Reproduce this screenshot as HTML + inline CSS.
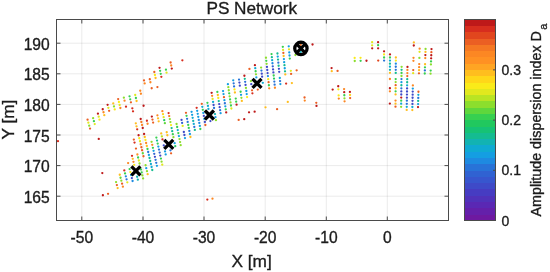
<!DOCTYPE html><html><head><meta charset="utf-8"><title>PS Network</title>
<style>html,body{margin:0;padding:0;background:#fff}svg{display:block}text{font-family:"Liberation Sans",Arial,Helvetica,sans-serif;fill:#1c1c1c;stroke:#1c1c1c;stroke-width:0.34px}</style></head><body>
<svg width="550" height="272" viewBox="0 0 550 272">
<rect width="550" height="272" fill="#fff"/>
<g stroke="#262626" stroke-opacity="0.095" stroke-width="1">
<line x1="81.8" y1="19.5" x2="81.8" y2="220.5"/>
<line x1="143.0" y1="19.5" x2="143.0" y2="220.5"/>
<line x1="204.0" y1="19.5" x2="204.0" y2="220.5"/>
<line x1="265.2" y1="19.5" x2="265.2" y2="220.5"/>
<line x1="326.3" y1="19.5" x2="326.3" y2="220.5"/>
<line x1="387.3" y1="19.5" x2="387.3" y2="220.5"/>
<line x1="56.5" y1="43.2" x2="448.5" y2="43.2"/>
<line x1="56.5" y1="73.8" x2="448.5" y2="73.8"/>
<line x1="56.5" y1="104.4" x2="448.5" y2="104.4"/>
<line x1="56.5" y1="135.0" x2="448.5" y2="135.0"/>
<line x1="56.5" y1="165.6" x2="448.5" y2="165.6"/>
<line x1="56.5" y1="196.2" x2="448.5" y2="196.2"/>
</g>
<g id="dots">
<circle cx="57.96" cy="141.20" r="1.15" fill="#d72d1e"/>
<circle cx="87.56" cy="119.70" r="1.15" fill="#eb5f23"/>
<circle cx="88.38" cy="122.67" r="1.15" fill="#e1e81e"/>
<circle cx="89.20" cy="125.63" r="1.15" fill="#8cde2d"/>
<circle cx="90.02" cy="128.60" r="1.15" fill="#eb5f23"/>
<circle cx="93.13" cy="118.18" r="1.15" fill="#8cde2d"/>
<circle cx="93.93" cy="121.15" r="1.15" fill="#37d050"/>
<circle cx="94.74" cy="124.12" r="1.15" fill="#e1e81e"/>
<circle cx="97.92" cy="113.71" r="1.15" fill="#be1919"/>
<circle cx="98.70" cy="116.68" r="1.15" fill="#e1e81e"/>
<circle cx="98.76" cy="138.96" r="1.15" fill="#be1919"/>
<circle cx="99.49" cy="119.66" r="1.15" fill="#faeb19"/>
<circle cx="102.31" cy="173.07" r="1.15" fill="#be1919"/>
<circle cx="102.74" cy="109.26" r="1.15" fill="#be1919"/>
<circle cx="102.87" cy="195.27" r="1.15" fill="#be1919"/>
<circle cx="103.52" cy="112.24" r="1.15" fill="#fc8723"/>
<circle cx="104.29" cy="115.22" r="1.15" fill="#ffbe1e"/>
<circle cx="107.60" cy="104.83" r="1.15" fill="#be1919"/>
<circle cx="108.05" cy="193.82" r="1.15" fill="#eb5f23"/>
<circle cx="108.36" cy="107.82" r="1.15" fill="#e1e81e"/>
<circle cx="109.12" cy="110.80" r="1.15" fill="#eb5f23"/>
<circle cx="113.25" cy="103.41" r="1.15" fill="#ffbe1e"/>
<circle cx="113.99" cy="106.40" r="1.15" fill="#8cde2d"/>
<circle cx="114.74" cy="109.38" r="1.15" fill="#faeb19"/>
<circle cx="116.07" cy="182.09" r="1.15" fill="#8cde2d"/>
<circle cx="116.86" cy="185.06" r="1.15" fill="#eb5f23"/>
<circle cx="117.65" cy="188.03" r="1.15" fill="#ffbe1e"/>
<circle cx="118.17" cy="99.03" r="1.15" fill="#eb5f23"/>
<circle cx="118.90" cy="102.02" r="1.15" fill="#faeb19"/>
<circle cx="119.63" cy="105.01" r="1.15" fill="#e1e81e"/>
<circle cx="119.77" cy="174.75" r="1.15" fill="#ffbe1e"/>
<circle cx="120.36" cy="108.00" r="1.15" fill="#fc8723"/>
<circle cx="120.54" cy="177.73" r="1.15" fill="#5fd73c"/>
<circle cx="121.32" cy="180.71" r="1.15" fill="#8cde2d"/>
<circle cx="122.09" cy="183.68" r="1.15" fill="#eb5f23"/>
<circle cx="122.87" cy="186.66" r="1.15" fill="#fc8723"/>
<circle cx="123.85" cy="97.67" r="1.15" fill="#8cde2d"/>
<circle cx="124.30" cy="170.41" r="1.15" fill="#d72d1e"/>
<circle cx="124.56" cy="100.66" r="1.15" fill="#fc8723"/>
<circle cx="125.06" cy="173.39" r="1.15" fill="#37d050"/>
<circle cx="125.82" cy="176.37" r="1.15" fill="#1e8ae1"/>
<circle cx="125.99" cy="106.64" r="1.15" fill="#d72d1e"/>
<circle cx="126.57" cy="179.35" r="1.15" fill="#2873d8"/>
<circle cx="127.33" cy="182.34" r="1.15" fill="#e1e81e"/>
<circle cx="128.12" cy="163.11" r="1.15" fill="#fc8723"/>
<circle cx="129.53" cy="96.33" r="1.15" fill="#37d050"/>
<circle cx="129.61" cy="169.08" r="1.15" fill="#37d050"/>
<circle cx="130.23" cy="99.32" r="1.15" fill="#37d050"/>
<circle cx="130.35" cy="172.06" r="1.15" fill="#faeb19"/>
<circle cx="130.93" cy="102.32" r="1.15" fill="#eb5f23"/>
<circle cx="131.09" cy="175.04" r="1.15" fill="#149ee2"/>
<circle cx="131.84" cy="178.03" r="1.15" fill="#3e4ac8"/>
<circle cx="132.01" cy="155.81" r="1.15" fill="#d72d1e"/>
<circle cx="132.32" cy="108.31" r="1.15" fill="#d72d1e"/>
<circle cx="132.58" cy="181.01" r="1.15" fill="#1e8ae1"/>
<circle cx="132.74" cy="158.80" r="1.15" fill="#ffbe1e"/>
<circle cx="133.02" cy="111.31" r="1.15" fill="#d72d1e"/>
<circle cx="133.46" cy="161.79" r="1.15" fill="#fc8723"/>
<circle cx="133.83" cy="139.55" r="1.15" fill="#eb5f23"/>
<circle cx="134.19" cy="164.78" r="1.15" fill="#faeb19"/>
<circle cx="134.54" cy="142.55" r="1.15" fill="#d72d1e"/>
<circle cx="135.22" cy="95.02" r="1.15" fill="#e1e81e"/>
<circle cx="135.81" cy="123.29" r="1.15" fill="#ffbe1e"/>
<circle cx="135.90" cy="98.02" r="1.15" fill="#37d050"/>
<circle cx="135.97" cy="148.53" r="1.15" fill="#eb5f23"/>
<circle cx="136.51" cy="126.28" r="1.15" fill="#ffbe1e"/>
<circle cx="136.58" cy="101.02" r="1.15" fill="#ffbe1e"/>
<circle cx="137.11" cy="176.73" r="1.15" fill="#12b3b2"/>
<circle cx="137.20" cy="129.28" r="1.15" fill="#d72d1e"/>
<circle cx="137.39" cy="154.52" r="1.15" fill="#ff9123"/>
<circle cx="137.83" cy="179.72" r="1.15" fill="#12b3b2"/>
<circle cx="138.10" cy="157.51" r="1.15" fill="#37d050"/>
<circle cx="138.60" cy="135.27" r="1.15" fill="#be1919"/>
<circle cx="138.82" cy="160.50" r="1.15" fill="#e1e81e"/>
<circle cx="139.29" cy="138.27" r="1.15" fill="#faeb19"/>
<circle cx="139.53" cy="163.49" r="1.15" fill="#8cde2d"/>
<circle cx="139.99" cy="141.26" r="1.15" fill="#e1e81e"/>
<circle cx="140.25" cy="90.74" r="1.15" fill="#fc8723"/>
<circle cx="140.68" cy="119.01" r="1.15" fill="#be1919"/>
<circle cx="140.69" cy="144.26" r="1.15" fill="#fc8723"/>
<circle cx="140.91" cy="93.74" r="1.15" fill="#fc8723"/>
<circle cx="140.96" cy="169.48" r="1.15" fill="#37d050"/>
<circle cx="141.36" cy="122.01" r="1.15" fill="#f57823"/>
<circle cx="141.39" cy="147.25" r="1.15" fill="#eb5f23"/>
<circle cx="141.67" cy="172.47" r="1.15" fill="#37d050"/>
<circle cx="142.04" cy="125.01" r="1.15" fill="#fc8723"/>
<circle cx="142.08" cy="150.25" r="1.15" fill="#eb5f23"/>
<circle cx="142.38" cy="175.46" r="1.15" fill="#8cde2d"/>
<circle cx="142.72" cy="128.01" r="1.15" fill="#be1919"/>
<circle cx="142.78" cy="153.25" r="1.15" fill="#5fd73c"/>
<circle cx="143.09" cy="178.45" r="1.15" fill="#8cde2d"/>
<circle cx="143.48" cy="156.24" r="1.15" fill="#eb5f23"/>
<circle cx="143.58" cy="105.75" r="1.15" fill="#be1919"/>
<circle cx="144.01" cy="80.46" r="1.15" fill="#eb5f23"/>
<circle cx="144.09" cy="134.01" r="1.15" fill="#be1919"/>
<circle cx="144.66" cy="83.47" r="1.15" fill="#fc8723"/>
<circle cx="144.77" cy="137.01" r="1.15" fill="#ffbe1e"/>
<circle cx="145.45" cy="140.01" r="1.15" fill="#faeb19"/>
<circle cx="145.57" cy="165.23" r="1.15" fill="#8cde2d"/>
<circle cx="146.13" cy="143.01" r="1.15" fill="#fc8723"/>
<circle cx="146.27" cy="168.22" r="1.15" fill="#149ee2"/>
<circle cx="146.81" cy="146.01" r="1.15" fill="#ffbe1e"/>
<circle cx="146.91" cy="120.76" r="1.15" fill="#d72d1e"/>
<circle cx="146.97" cy="171.22" r="1.15" fill="#8cde2d"/>
<circle cx="147.50" cy="149.00" r="1.15" fill="#37d050"/>
<circle cx="147.58" cy="123.77" r="1.15" fill="#fc8723"/>
<circle cx="147.66" cy="174.22" r="1.15" fill="#ffbe1e"/>
<circle cx="148.18" cy="152.00" r="1.15" fill="#2873d8"/>
<circle cx="148.86" cy="155.00" r="1.15" fill="#149ee2"/>
<circle cx="149.54" cy="158.00" r="1.15" fill="#14bc91"/>
<circle cx="149.78" cy="79.23" r="1.15" fill="#eb5f23"/>
<circle cx="150.22" cy="161.00" r="1.15" fill="#14bc91"/>
<circle cx="150.42" cy="82.24" r="1.15" fill="#fc8723"/>
<circle cx="150.91" cy="164.00" r="1.15" fill="#0faad2"/>
<circle cx="151.58" cy="141.78" r="1.15" fill="#8cde2d"/>
<circle cx="151.59" cy="167.00" r="1.15" fill="#0faad2"/>
<circle cx="151.69" cy="88.26" r="1.15" fill="#eb5f23"/>
<circle cx="151.83" cy="116.54" r="1.15" fill="#be1919"/>
<circle cx="152.25" cy="144.78" r="1.15" fill="#fc8723"/>
<circle cx="152.27" cy="170.00" r="1.15" fill="#14bc91"/>
<circle cx="152.48" cy="119.54" r="1.15" fill="#eb5f23"/>
<circle cx="152.91" cy="147.79" r="1.15" fill="#37d050"/>
<circle cx="153.13" cy="122.55" r="1.15" fill="#eb5f23"/>
<circle cx="153.58" cy="150.79" r="1.15" fill="#149ee2"/>
<circle cx="154.25" cy="153.79" r="1.15" fill="#3062d2"/>
<circle cx="154.32" cy="72.00" r="1.15" fill="#eb5f23"/>
<circle cx="154.91" cy="156.80" r="1.15" fill="#3e4ac8"/>
<circle cx="154.94" cy="75.01" r="1.15" fill="#faeb19"/>
<circle cx="155.56" cy="78.02" r="1.15" fill="#ffbe1e"/>
<circle cx="155.58" cy="159.80" r="1.15" fill="#2873d8"/>
<circle cx="156.25" cy="162.80" r="1.15" fill="#2873d8"/>
<circle cx="156.38" cy="137.58" r="1.15" fill="#37d050"/>
<circle cx="156.91" cy="165.80" r="1.15" fill="#149ee2"/>
<circle cx="157.04" cy="140.59" r="1.15" fill="#14bc91"/>
<circle cx="157.41" cy="115.34" r="1.15" fill="#fc8723"/>
<circle cx="157.42" cy="87.06" r="1.15" fill="#eb5f23"/>
<circle cx="157.69" cy="143.59" r="1.15" fill="#37d050"/>
<circle cx="158.05" cy="118.35" r="1.15" fill="#ffbe1e"/>
<circle cx="158.34" cy="146.60" r="1.15" fill="#149ee2"/>
<circle cx="158.68" cy="121.36" r="1.15" fill="#ffbe1e"/>
<circle cx="158.99" cy="149.60" r="1.15" fill="#2873d8"/>
<circle cx="159.53" cy="67.80" r="1.15" fill="#be1919"/>
<circle cx="159.64" cy="152.61" r="1.15" fill="#3062d2"/>
<circle cx="160.13" cy="70.82" r="1.15" fill="#37d050"/>
<circle cx="160.29" cy="155.62" r="1.15" fill="#3e4ac8"/>
<circle cx="160.73" cy="73.83" r="1.15" fill="#37d050"/>
<circle cx="160.94" cy="158.62" r="1.15" fill="#37d050"/>
<circle cx="161.23" cy="133.40" r="1.15" fill="#ffbe1e"/>
<circle cx="161.34" cy="76.85" r="1.15" fill="#d72d1e"/>
<circle cx="161.59" cy="161.63" r="1.15" fill="#8cde2d"/>
<circle cx="161.86" cy="136.41" r="1.15" fill="#b9e423"/>
<circle cx="162.25" cy="164.63" r="1.15" fill="#e1e81e"/>
<circle cx="162.38" cy="111.16" r="1.15" fill="#fc8723"/>
<circle cx="162.50" cy="139.42" r="1.15" fill="#d72d1e"/>
<circle cx="163.00" cy="114.18" r="1.15" fill="#ffd719"/>
<circle cx="163.62" cy="117.19" r="1.15" fill="#e1e81e"/>
<circle cx="163.77" cy="145.44" r="1.15" fill="#3e4ac8"/>
<circle cx="164.24" cy="120.20" r="1.15" fill="#21c85e"/>
<circle cx="164.86" cy="123.21" r="1.15" fill="#5fd73c"/>
<circle cx="165.04" cy="151.45" r="1.15" fill="#149ee2"/>
<circle cx="165.68" cy="154.46" r="1.15" fill="#149ee2"/>
<circle cx="165.95" cy="69.67" r="1.15" fill="#37d050"/>
<circle cx="166.54" cy="72.68" r="1.15" fill="#e1e81e"/>
<circle cx="166.72" cy="132.25" r="1.15" fill="#ffbe1e"/>
<circle cx="167.34" cy="135.26" r="1.15" fill="#ffbe1e"/>
<circle cx="168.60" cy="113.04" r="1.15" fill="#d72d1e"/>
<circle cx="169.20" cy="116.05" r="1.15" fill="#f57823"/>
<circle cx="169.81" cy="119.07" r="1.15" fill="#8cde2d"/>
<circle cx="170.41" cy="122.09" r="1.15" fill="#8cde2d"/>
<circle cx="170.45" cy="150.33" r="1.15" fill="#2873d8"/>
<circle cx="170.63" cy="62.50" r="1.15" fill="#eb5f23"/>
<circle cx="171.02" cy="125.10" r="1.15" fill="#faeb19"/>
<circle cx="171.07" cy="153.34" r="1.15" fill="#eb5f23"/>
<circle cx="171.20" cy="65.52" r="1.15" fill="#fc8723"/>
<circle cx="171.62" cy="128.12" r="1.15" fill="#14bc91"/>
<circle cx="171.77" cy="68.54" r="1.15" fill="#be1919"/>
<circle cx="172.23" cy="131.13" r="1.15" fill="#14bc91"/>
<circle cx="172.83" cy="134.15" r="1.15" fill="#37d050"/>
<circle cx="173.44" cy="137.16" r="1.15" fill="#8cde2d"/>
<circle cx="174.65" cy="143.20" r="1.15" fill="#149ee2"/>
<circle cx="175.25" cy="146.21" r="1.15" fill="#21c85e"/>
<circle cx="176.56" cy="124.01" r="1.15" fill="#8cde2d"/>
<circle cx="177.15" cy="127.02" r="1.15" fill="#37d050"/>
<circle cx="177.74" cy="130.04" r="1.15" fill="#0faad2"/>
<circle cx="178.33" cy="133.06" r="1.15" fill="#37d050"/>
<circle cx="178.92" cy="136.08" r="1.15" fill="#149ee2"/>
<circle cx="179.50" cy="139.10" r="1.15" fill="#8cde2d"/>
<circle cx="180.09" cy="142.12" r="1.15" fill="#8cde2d"/>
<circle cx="180.68" cy="145.14" r="1.15" fill="#8cde2d"/>
<circle cx="181.53" cy="119.92" r="1.15" fill="#3e4ac8"/>
<circle cx="182.10" cy="122.94" r="1.15" fill="#3062d2"/>
<circle cx="182.36" cy="60.34" r="1.15" fill="#d72d1e"/>
<circle cx="182.68" cy="125.96" r="1.15" fill="#e1e81e"/>
<circle cx="183.83" cy="132.00" r="1.15" fill="#3e4ac8"/>
<circle cx="184.40" cy="135.02" r="1.15" fill="#3e4ac8"/>
<circle cx="184.97" cy="138.05" r="1.15" fill="#149ee2"/>
<circle cx="185.98" cy="112.82" r="1.15" fill="#eb5f23"/>
<circle cx="186.54" cy="115.85" r="1.15" fill="#37d050"/>
<circle cx="187.10" cy="118.87" r="1.15" fill="#2873d8"/>
<circle cx="187.65" cy="121.90" r="1.15" fill="#2873d8"/>
<circle cx="188.21" cy="124.92" r="1.15" fill="#37d050"/>
<circle cx="188.77" cy="127.95" r="1.15" fill="#37d050"/>
<circle cx="189.33" cy="130.97" r="1.15" fill="#2873d8"/>
<circle cx="189.89" cy="134.00" r="1.15" fill="#149ee2"/>
<circle cx="190.45" cy="137.02" r="1.15" fill="#ffbe1e"/>
<circle cx="191.58" cy="111.80" r="1.15" fill="#149ee2"/>
<circle cx="192.13" cy="114.83" r="1.15" fill="#149ee2"/>
<circle cx="192.67" cy="117.86" r="1.15" fill="#0faad2"/>
<circle cx="193.21" cy="120.89" r="1.15" fill="#12b3b2"/>
<circle cx="193.75" cy="123.91" r="1.15" fill="#0faad2"/>
<circle cx="194.30" cy="126.94" r="1.15" fill="#2873d8"/>
<circle cx="194.84" cy="129.97" r="1.15" fill="#14bc91"/>
<circle cx="196.66" cy="107.78" r="1.15" fill="#d72d1e"/>
<circle cx="197.19" cy="110.81" r="1.15" fill="#149ee2"/>
<circle cx="197.72" cy="113.84" r="1.15" fill="#149ee2"/>
<circle cx="198.25" cy="116.87" r="1.15" fill="#149ee2"/>
<circle cx="198.77" cy="119.90" r="1.15" fill="#1e8ae1"/>
<circle cx="199.30" cy="122.93" r="1.15" fill="#1e8ae1"/>
<circle cx="199.83" cy="125.97" r="1.15" fill="#149ee2"/>
<circle cx="200.35" cy="129.00" r="1.15" fill="#37d050"/>
<circle cx="201.78" cy="103.79" r="1.15" fill="#eb5f23"/>
<circle cx="202.29" cy="106.82" r="1.15" fill="#0faad2"/>
<circle cx="202.80" cy="109.85" r="1.15" fill="#37d050"/>
<circle cx="203.32" cy="112.88" r="1.15" fill="#149ee2"/>
<circle cx="203.83" cy="115.92" r="1.15" fill="#3e4ac8"/>
<circle cx="204.34" cy="118.95" r="1.15" fill="#149ee2"/>
<circle cx="204.85" cy="121.98" r="1.15" fill="#3e4ac8"/>
<circle cx="205.36" cy="125.02" r="1.15" fill="#eb5f23"/>
<circle cx="207.32" cy="199.60" r="1.15" fill="#d72d1e"/>
<circle cx="207.43" cy="102.85" r="1.15" fill="#37d050"/>
<circle cx="207.93" cy="105.88" r="1.15" fill="#0faad2"/>
<circle cx="208.42" cy="108.92" r="1.15" fill="#0faad2"/>
<circle cx="210.41" cy="121.06" r="1.15" fill="#3e4ac8"/>
<circle cx="211.64" cy="92.82" r="1.15" fill="#be1919"/>
<circle cx="212.12" cy="95.86" r="1.15" fill="#fc8723"/>
<circle cx="212.48" cy="198.69" r="1.15" fill="#fc8723"/>
<circle cx="212.60" cy="98.90" r="1.15" fill="#e1e81e"/>
<circle cx="213.08" cy="101.94" r="1.15" fill="#0faad2"/>
<circle cx="213.57" cy="104.98" r="1.15" fill="#3e4ac8"/>
<circle cx="214.05" cy="108.01" r="1.15" fill="#2873d8"/>
<circle cx="215.01" cy="114.09" r="1.15" fill="#12b3b2"/>
<circle cx="215.49" cy="117.13" r="1.15" fill="#149ee2"/>
<circle cx="215.97" cy="120.17" r="1.15" fill="#8cde2d"/>
<circle cx="217.35" cy="91.94" r="1.15" fill="#37d050"/>
<circle cx="217.81" cy="94.98" r="1.15" fill="#ffbe1e"/>
<circle cx="218.28" cy="98.02" r="1.15" fill="#faeb19"/>
<circle cx="218.74" cy="101.06" r="1.15" fill="#14bc91"/>
<circle cx="219.21" cy="104.10" r="1.15" fill="#3e4ac8"/>
<circle cx="219.67" cy="107.14" r="1.15" fill="#3e4ac8"/>
<circle cx="220.14" cy="110.18" r="1.15" fill="#2873d8"/>
<circle cx="220.60" cy="113.22" r="1.15" fill="#149ee2"/>
<circle cx="223.06" cy="91.08" r="1.15" fill="#149ee2"/>
<circle cx="223.51" cy="94.12" r="1.15" fill="#149ee2"/>
<circle cx="223.96" cy="97.16" r="1.15" fill="#eb5f23"/>
<circle cx="224.41" cy="100.21" r="1.15" fill="#149ee2"/>
<circle cx="224.86" cy="103.25" r="1.15" fill="#2873d8"/>
<circle cx="225.31" cy="106.29" r="1.15" fill="#149ee2"/>
<circle cx="225.75" cy="109.34" r="1.15" fill="#37d050"/>
<circle cx="226.20" cy="112.38" r="1.15" fill="#be1919"/>
<circle cx="227.91" cy="84.16" r="1.15" fill="#149ee2"/>
<circle cx="228.34" cy="87.20" r="1.15" fill="#8cde2d"/>
<circle cx="228.77" cy="90.25" r="1.15" fill="#8cde2d"/>
<circle cx="229.21" cy="93.29" r="1.15" fill="#37d050"/>
<circle cx="229.64" cy="96.34" r="1.15" fill="#8cde2d"/>
<circle cx="230.07" cy="99.39" r="1.15" fill="#37d050"/>
<circle cx="230.51" cy="102.43" r="1.15" fill="#8cde2d"/>
<circle cx="230.94" cy="105.48" r="1.15" fill="#37d050"/>
<circle cx="231.38" cy="108.52" r="1.15" fill="#e1e81e"/>
<circle cx="233.24" cy="80.31" r="1.15" fill="#149ee2"/>
<circle cx="233.66" cy="83.36" r="1.15" fill="#2873d8"/>
<circle cx="234.07" cy="86.40" r="1.15" fill="#2873d8"/>
<circle cx="234.49" cy="89.45" r="1.15" fill="#faeb19"/>
<circle cx="234.91" cy="92.50" r="1.15" fill="#ffbe1e"/>
<circle cx="235.75" cy="98.59" r="1.15" fill="#37d050"/>
<circle cx="236.16" cy="101.64" r="1.15" fill="#37d050"/>
<circle cx="236.58" cy="104.69" r="1.15" fill="#be1919"/>
<circle cx="238.67" cy="119.92" r="1.15" fill="#eb5f23"/>
<circle cx="239.01" cy="79.53" r="1.15" fill="#2873d8"/>
<circle cx="239.41" cy="82.58" r="1.15" fill="#3e4ac8"/>
<circle cx="239.81" cy="85.63" r="1.15" fill="#3e4ac8"/>
<circle cx="240.62" cy="91.73" r="1.15" fill="#37d050"/>
<circle cx="241.02" cy="94.78" r="1.15" fill="#149ee2"/>
<circle cx="241.42" cy="97.83" r="1.15" fill="#8cde2d"/>
<circle cx="241.82" cy="100.88" r="1.15" fill="#ffbe1e"/>
<circle cx="244.24" cy="119.17" r="1.15" fill="#be1919"/>
<circle cx="244.39" cy="75.73" r="1.15" fill="#be1919"/>
<circle cx="244.78" cy="78.79" r="1.15" fill="#14bc91"/>
<circle cx="245.17" cy="81.84" r="1.15" fill="#2873d8"/>
<circle cx="245.55" cy="84.89" r="1.15" fill="#3e4ac8"/>
<circle cx="245.94" cy="87.94" r="1.15" fill="#8cde2d"/>
<circle cx="246.33" cy="90.99" r="1.15" fill="#149ee2"/>
<circle cx="246.71" cy="94.04" r="1.15" fill="#149ee2"/>
<circle cx="247.10" cy="97.09" r="1.15" fill="#faeb19"/>
<circle cx="249.03" cy="112.35" r="1.15" fill="#be1919"/>
<circle cx="249.44" cy="68.91" r="1.15" fill="#eb5f23"/>
<circle cx="250.93" cy="81.12" r="1.15" fill="#8cde2d"/>
<circle cx="251.30" cy="84.17" r="1.15" fill="#3e4ac8"/>
<circle cx="252.04" cy="90.28" r="1.15" fill="#eb5f23"/>
<circle cx="252.41" cy="93.33" r="1.15" fill="#d72d1e"/>
<circle cx="254.64" cy="111.65" r="1.15" fill="#be1919"/>
<circle cx="254.92" cy="65.16" r="1.15" fill="#be1919"/>
<circle cx="255.27" cy="68.21" r="1.15" fill="#0faad2"/>
<circle cx="255.63" cy="71.27" r="1.15" fill="#37d050"/>
<circle cx="255.98" cy="74.33" r="1.15" fill="#8cde2d"/>
<circle cx="256.34" cy="77.38" r="1.15" fill="#149ee2"/>
<circle cx="257.76" cy="89.60" r="1.15" fill="#eb5f23"/>
<circle cx="261.10" cy="67.55" r="1.15" fill="#8cde2d"/>
<circle cx="261.44" cy="70.61" r="1.15" fill="#2873d8"/>
<circle cx="261.78" cy="73.67" r="1.15" fill="#3e4ac8"/>
<circle cx="262.12" cy="76.72" r="1.15" fill="#3e4ac8"/>
<circle cx="262.80" cy="82.84" r="1.15" fill="#0faad2"/>
<circle cx="265.52" cy="107.29" r="1.15" fill="#ffbe1e"/>
<circle cx="265.97" cy="57.74" r="1.15" fill="#8cde2d"/>
<circle cx="266.29" cy="60.80" r="1.15" fill="#37d050"/>
<circle cx="266.61" cy="63.86" r="1.15" fill="#8cde2d"/>
<circle cx="266.94" cy="66.92" r="1.15" fill="#3e4ac8"/>
<circle cx="267.26" cy="69.98" r="1.15" fill="#3e4ac8"/>
<circle cx="267.59" cy="73.04" r="1.15" fill="#3e4ac8"/>
<circle cx="267.91" cy="76.09" r="1.15" fill="#1e8ae1"/>
<circle cx="268.23" cy="79.15" r="1.15" fill="#faeb19"/>
<circle cx="268.56" cy="82.21" r="1.15" fill="#eb5f23"/>
<circle cx="268.88" cy="85.27" r="1.15" fill="#37d050"/>
<circle cx="269.21" cy="88.33" r="1.15" fill="#fc8723"/>
<circle cx="271.54" cy="54.07" r="1.15" fill="#37d050"/>
<circle cx="271.85" cy="57.13" r="1.15" fill="#14bc91"/>
<circle cx="272.16" cy="60.19" r="1.15" fill="#0faad2"/>
<circle cx="272.47" cy="63.25" r="1.15" fill="#1e8ae1"/>
<circle cx="272.77" cy="66.31" r="1.15" fill="#3062d2"/>
<circle cx="273.08" cy="69.38" r="1.15" fill="#3e4ac8"/>
<circle cx="273.39" cy="72.44" r="1.15" fill="#3e4ac8"/>
<circle cx="273.70" cy="75.50" r="1.15" fill="#37d050"/>
<circle cx="274.01" cy="78.56" r="1.15" fill="#21c85e"/>
<circle cx="274.32" cy="81.62" r="1.15" fill="#2873d8"/>
<circle cx="274.63" cy="84.68" r="1.15" fill="#2873d8"/>
<circle cx="274.93" cy="87.74" r="1.15" fill="#fc8723"/>
<circle cx="277.09" cy="109.16" r="1.15" fill="#eb5f23"/>
<circle cx="277.45" cy="53.49" r="1.15" fill="#14bc91"/>
<circle cx="277.74" cy="56.56" r="1.15" fill="#149ee2"/>
<circle cx="278.03" cy="59.62" r="1.15" fill="#14bc91"/>
<circle cx="278.32" cy="62.68" r="1.15" fill="#2873d8"/>
<circle cx="278.62" cy="65.74" r="1.15" fill="#14bc91"/>
<circle cx="278.91" cy="68.80" r="1.15" fill="#3e4ac8"/>
<circle cx="279.20" cy="71.87" r="1.15" fill="#3e4ac8"/>
<circle cx="279.79" cy="77.99" r="1.15" fill="#0faad2"/>
<circle cx="280.08" cy="81.05" r="1.15" fill="#2873d8"/>
<circle cx="280.37" cy="84.11" r="1.15" fill="#149ee2"/>
<circle cx="282.80" cy="46.82" r="1.15" fill="#37d050"/>
<circle cx="283.07" cy="49.88" r="1.15" fill="#e1e81e"/>
<circle cx="283.35" cy="52.94" r="1.15" fill="#eb5f23"/>
<circle cx="283.63" cy="56.01" r="1.15" fill="#ffbe1e"/>
<circle cx="283.91" cy="59.07" r="1.15" fill="#149ee2"/>
<circle cx="284.18" cy="62.13" r="1.15" fill="#149ee2"/>
<circle cx="284.46" cy="65.20" r="1.15" fill="#14bc91"/>
<circle cx="284.74" cy="68.26" r="1.15" fill="#149ee2"/>
<circle cx="285.01" cy="71.32" r="1.15" fill="#14bc91"/>
<circle cx="285.29" cy="74.39" r="1.15" fill="#ffbe1e"/>
<circle cx="286.12" cy="83.58" r="1.15" fill="#d72d1e"/>
<circle cx="287.78" cy="101.96" r="1.15" fill="#ffbe1e"/>
<circle cx="288.74" cy="46.30" r="1.15" fill="#149ee2"/>
<circle cx="289.00" cy="49.36" r="1.15" fill="#e1e81e"/>
<circle cx="289.26" cy="52.43" r="1.15" fill="#149ee2"/>
<circle cx="289.52" cy="55.49" r="1.15" fill="#149ee2"/>
<circle cx="289.78" cy="58.56" r="1.15" fill="#37d050"/>
<circle cx="290.83" cy="70.81" r="1.15" fill="#e1e81e"/>
<circle cx="291.09" cy="73.88" r="1.15" fill="#eb5f23"/>
<circle cx="291.87" cy="83.07" r="1.15" fill="#ffbe1e"/>
<circle cx="295.42" cy="55.00" r="1.15" fill="#8cde2d"/>
<circle cx="296.65" cy="70.33" r="1.15" fill="#eb5f23"/>
<circle cx="304.53" cy="97.49" r="1.15" fill="#eb5f23"/>
<circle cx="304.76" cy="100.56" r="1.15" fill="#fc8723"/>
<circle cx="312.53" cy="44.52" r="1.15" fill="#be1919"/>
<circle cx="316.29" cy="102.83" r="1.15" fill="#eb5f23"/>
<circle cx="316.49" cy="105.90" r="1.15" fill="#be1919"/>
<circle cx="331.59" cy="68.08" r="1.15" fill="#be1919"/>
<circle cx="331.75" cy="71.15" r="1.15" fill="#ffbe1e"/>
<circle cx="332.65" cy="89.58" r="1.15" fill="#be1919"/>
<circle cx="337.56" cy="70.88" r="1.15" fill="#eb5f23"/>
<circle cx="338.24" cy="86.24" r="1.15" fill="#be1919"/>
<circle cx="338.37" cy="89.32" r="1.15" fill="#faeb19"/>
<circle cx="338.64" cy="95.46" r="1.15" fill="#faeb19"/>
<circle cx="338.78" cy="98.53" r="1.15" fill="#fc8723"/>
<circle cx="344.09" cy="89.08" r="1.15" fill="#fc8723"/>
<circle cx="344.21" cy="92.15" r="1.15" fill="#be1919"/>
<circle cx="344.33" cy="95.23" r="1.15" fill="#37d050"/>
<circle cx="344.45" cy="98.30" r="1.15" fill="#8cde2d"/>
<circle cx="344.57" cy="101.37" r="1.15" fill="#fc8723"/>
<circle cx="349.92" cy="91.94" r="1.15" fill="#be1919"/>
<circle cx="350.02" cy="95.02" r="1.15" fill="#ffd719"/>
<circle cx="350.13" cy="98.09" r="1.15" fill="#eb5f23"/>
<circle cx="354.66" cy="57.95" r="1.15" fill="#faeb19"/>
<circle cx="354.75" cy="61.02" r="1.15" fill="#8cde2d"/>
<circle cx="360.54" cy="57.79" r="1.15" fill="#faeb19"/>
<circle cx="360.62" cy="60.87" r="1.15" fill="#37d050"/>
<circle cx="366.48" cy="60.75" r="1.15" fill="#be1919"/>
<circle cx="372.11" cy="42.20" r="1.15" fill="#e1e81e"/>
<circle cx="372.15" cy="45.28" r="1.15" fill="#e1e81e"/>
<circle cx="372.19" cy="48.35" r="1.15" fill="#be1919"/>
<circle cx="378.07" cy="42.14" r="1.15" fill="#be1919"/>
<circle cx="378.10" cy="45.21" r="1.15" fill="#37d050"/>
<circle cx="378.12" cy="48.29" r="1.15" fill="#be1919"/>
<circle cx="378.22" cy="60.59" r="1.15" fill="#e1461e"/>
<circle cx="384.06" cy="51.33" r="1.15" fill="#be1919"/>
<circle cx="384.07" cy="54.41" r="1.15" fill="#faeb19"/>
<circle cx="384.08" cy="57.48" r="1.15" fill="#37d050"/>
<circle cx="384.09" cy="60.56" r="1.15" fill="#2873d8"/>
<circle cx="389.86" cy="103.62" r="1.15" fill="#be1919"/>
<circle cx="389.89" cy="91.32" r="1.15" fill="#fc8723"/>
<circle cx="389.90" cy="88.24" r="1.15" fill="#be1919"/>
<circle cx="389.92" cy="79.01" r="1.15" fill="#fc8723"/>
<circle cx="389.93" cy="72.86" r="1.15" fill="#ffbe1e"/>
<circle cx="389.94" cy="69.79" r="1.15" fill="#12b3b2"/>
<circle cx="389.94" cy="66.71" r="1.15" fill="#0faad2"/>
<circle cx="389.95" cy="63.63" r="1.15" fill="#14bc91"/>
<circle cx="389.96" cy="60.56" r="1.15" fill="#0faad2"/>
<circle cx="389.97" cy="57.48" r="1.15" fill="#37d050"/>
<circle cx="389.97" cy="54.41" r="1.15" fill="#be1919"/>
<circle cx="395.49" cy="106.72" r="1.15" fill="#eb5f23"/>
<circle cx="395.51" cy="103.65" r="1.15" fill="#ffbe1e"/>
<circle cx="395.53" cy="100.57" r="1.15" fill="#fc8723"/>
<circle cx="395.58" cy="94.42" r="1.15" fill="#ffbe1e"/>
<circle cx="395.60" cy="91.34" r="1.15" fill="#37d050"/>
<circle cx="395.62" cy="88.27" r="1.15" fill="#ffbe1e"/>
<circle cx="395.65" cy="85.19" r="1.15" fill="#eb5f23"/>
<circle cx="395.67" cy="82.12" r="1.15" fill="#8cde2d"/>
<circle cx="395.69" cy="79.04" r="1.15" fill="#37d050"/>
<circle cx="395.74" cy="72.89" r="1.15" fill="#14bc91"/>
<circle cx="395.76" cy="69.81" r="1.15" fill="#2873d8"/>
<circle cx="395.78" cy="66.74" r="1.15" fill="#2873d8"/>
<circle cx="395.80" cy="63.66" r="1.15" fill="#1e8ae1"/>
<circle cx="395.83" cy="60.59" r="1.15" fill="#faeb19"/>
<circle cx="395.85" cy="57.51" r="1.15" fill="#ffbe1e"/>
<circle cx="401.12" cy="106.78" r="1.15" fill="#8cde2d"/>
<circle cx="401.16" cy="103.70" r="1.15" fill="#0faad2"/>
<circle cx="401.20" cy="100.63" r="1.15" fill="#37d050"/>
<circle cx="401.23" cy="97.55" r="1.15" fill="#be1919"/>
<circle cx="401.27" cy="94.48" r="1.15" fill="#3e4ac8"/>
<circle cx="401.31" cy="91.40" r="1.15" fill="#3e4ac8"/>
<circle cx="401.35" cy="88.32" r="1.15" fill="#2873d8"/>
<circle cx="401.39" cy="85.25" r="1.15" fill="#14bc91"/>
<circle cx="401.43" cy="82.17" r="1.15" fill="#149ee2"/>
<circle cx="401.47" cy="79.10" r="1.15" fill="#2873d8"/>
<circle cx="401.50" cy="76.02" r="1.15" fill="#8cde2d"/>
<circle cx="401.54" cy="72.95" r="1.15" fill="#37d050"/>
<circle cx="401.58" cy="69.87" r="1.15" fill="#14bc91"/>
<circle cx="401.62" cy="66.80" r="1.15" fill="#8cde2d"/>
<circle cx="406.70" cy="109.94" r="1.15" fill="#ffbe1e"/>
<circle cx="406.75" cy="106.86" r="1.15" fill="#0faad2"/>
<circle cx="406.80" cy="103.79" r="1.15" fill="#2873d8"/>
<circle cx="406.86" cy="100.71" r="1.15" fill="#2873d8"/>
<circle cx="406.91" cy="97.64" r="1.15" fill="#3e4ac8"/>
<circle cx="406.97" cy="94.56" r="1.15" fill="#3e4ac8"/>
<circle cx="407.02" cy="91.49" r="1.15" fill="#3e4ac8"/>
<circle cx="407.08" cy="88.41" r="1.15" fill="#3e4ac8"/>
<circle cx="407.13" cy="85.34" r="1.15" fill="#0faad2"/>
<circle cx="407.18" cy="82.26" r="1.15" fill="#14bc91"/>
<circle cx="407.24" cy="79.19" r="1.15" fill="#14bc91"/>
<circle cx="407.29" cy="76.11" r="1.15" fill="#eb5f23"/>
<circle cx="407.35" cy="73.03" r="1.15" fill="#fc8723"/>
<circle cx="407.40" cy="69.96" r="1.15" fill="#fc8723"/>
<circle cx="407.46" cy="66.88" r="1.15" fill="#be1919"/>
<circle cx="412.31" cy="110.05" r="1.15" fill="#ffbe1e"/>
<circle cx="412.38" cy="106.98" r="1.15" fill="#0faad2"/>
<circle cx="412.45" cy="103.90" r="1.15" fill="#3e4ac8"/>
<circle cx="412.52" cy="100.83" r="1.15" fill="#3e4ac8"/>
<circle cx="412.59" cy="97.75" r="1.15" fill="#3e4ac8"/>
<circle cx="412.66" cy="94.68" r="1.15" fill="#3e4ac8"/>
<circle cx="412.73" cy="91.60" r="1.15" fill="#3e4ac8"/>
<circle cx="412.80" cy="88.53" r="1.15" fill="#149ee2"/>
<circle cx="412.87" cy="85.45" r="1.15" fill="#fc8723"/>
<circle cx="413.15" cy="73.15" r="1.15" fill="#e1e81e"/>
<circle cx="413.22" cy="70.08" r="1.15" fill="#eb5f23"/>
<circle cx="413.43" cy="60.85" r="1.15" fill="#fc8723"/>
<circle cx="413.50" cy="57.78" r="1.15" fill="#fc8723"/>
<circle cx="413.78" cy="45.48" r="1.15" fill="#be1919"/>
<circle cx="413.85" cy="42.40" r="1.15" fill="#ffbe1e"/>
<circle cx="418.01" cy="107.12" r="1.15" fill="#be1919"/>
<circle cx="418.10" cy="104.05" r="1.15" fill="#149ee2"/>
<circle cx="418.18" cy="100.97" r="1.15" fill="#14bc91"/>
<circle cx="418.27" cy="97.90" r="1.15" fill="#2873d8"/>
<circle cx="418.35" cy="94.82" r="1.15" fill="#0faad2"/>
<circle cx="418.44" cy="91.75" r="1.15" fill="#eb5f23"/>
<circle cx="418.96" cy="73.30" r="1.15" fill="#eb5f23"/>
<circle cx="419.04" cy="70.22" r="1.15" fill="#ffbe1e"/>
<circle cx="419.13" cy="67.15" r="1.15" fill="#fc8723"/>
<circle cx="419.21" cy="64.07" r="1.15" fill="#fc8723"/>
<circle cx="419.38" cy="57.93" r="1.15" fill="#8cde2d"/>
<circle cx="419.56" cy="51.78" r="1.15" fill="#e1e81e"/>
<circle cx="419.64" cy="48.70" r="1.15" fill="#fc8723"/>
<circle cx="424.76" cy="73.48" r="1.15" fill="#37d050"/>
<circle cx="424.86" cy="70.40" r="1.15" fill="#2873d8"/>
<circle cx="424.96" cy="67.33" r="1.15" fill="#37d050"/>
<circle cx="425.06" cy="64.25" r="1.15" fill="#ffbe1e"/>
<circle cx="425.27" cy="58.10" r="1.15" fill="#fc8723"/>
<circle cx="425.37" cy="55.03" r="1.15" fill="#be1919"/>
<circle cx="425.47" cy="51.96" r="1.15" fill="#ffbe1e"/>
<circle cx="425.57" cy="48.88" r="1.15" fill="#8cde2d"/>
<circle cx="430.56" cy="73.68" r="1.15" fill="#8cde2d"/>
<circle cx="430.68" cy="70.61" r="1.15" fill="#37d050"/>
<circle cx="430.91" cy="64.46" r="1.15" fill="#8cde2d"/>
<circle cx="431.03" cy="61.39" r="1.15" fill="#37d050"/>
<circle cx="431.15" cy="58.31" r="1.15" fill="#be1919"/>
<circle cx="431.26" cy="55.24" r="1.15" fill="#be1919"/>
<circle cx="431.38" cy="52.17" r="1.15" fill="#eb5f23"/>
<circle cx="431.50" cy="49.09" r="1.15" fill="#be1919"/>
</g>
<rect x="56.5" y="19.5" width="392.0" height="201.0" fill="none" stroke="#4a4a4a" stroke-width="1"/>
<g stroke="#4a4a4a" stroke-width="1">
<line x1="81.8" y1="220.5" x2="81.8" y2="216.5"/>
<line x1="81.8" y1="19.5" x2="81.8" y2="23.5"/>
<line x1="143.0" y1="220.5" x2="143.0" y2="216.5"/>
<line x1="143.0" y1="19.5" x2="143.0" y2="23.5"/>
<line x1="204.0" y1="220.5" x2="204.0" y2="216.5"/>
<line x1="204.0" y1="19.5" x2="204.0" y2="23.5"/>
<line x1="265.2" y1="220.5" x2="265.2" y2="216.5"/>
<line x1="265.2" y1="19.5" x2="265.2" y2="23.5"/>
<line x1="326.3" y1="220.5" x2="326.3" y2="216.5"/>
<line x1="326.3" y1="19.5" x2="326.3" y2="23.5"/>
<line x1="387.3" y1="220.5" x2="387.3" y2="216.5"/>
<line x1="387.3" y1="19.5" x2="387.3" y2="23.5"/>
<line x1="56.5" y1="43.2" x2="60.5" y2="43.2"/>
<line x1="448.5" y1="43.2" x2="444.5" y2="43.2"/>
<line x1="56.5" y1="73.8" x2="60.5" y2="73.8"/>
<line x1="448.5" y1="73.8" x2="444.5" y2="73.8"/>
<line x1="56.5" y1="104.4" x2="60.5" y2="104.4"/>
<line x1="448.5" y1="104.4" x2="444.5" y2="104.4"/>
<line x1="56.5" y1="135.0" x2="60.5" y2="135.0"/>
<line x1="448.5" y1="135.0" x2="444.5" y2="135.0"/>
<line x1="56.5" y1="165.6" x2="60.5" y2="165.6"/>
<line x1="448.5" y1="165.6" x2="444.5" y2="165.6"/>
<line x1="56.5" y1="196.2" x2="60.5" y2="196.2"/>
<line x1="448.5" y1="196.2" x2="444.5" y2="196.2"/>
</g>
<g font-size="15.6">
<text x="81.8" y="242.9" text-anchor="middle">-50</text>
<text x="143.0" y="242.9" text-anchor="middle">-40</text>
<text x="204.0" y="242.9" text-anchor="middle">-30</text>
<text x="265.2" y="242.9" text-anchor="middle">-20</text>
<text x="326.3" y="242.9" text-anchor="middle">-10</text>
<text x="387.3" y="242.9" text-anchor="middle">0</text>
<text x="49.7" y="49.8" text-anchor="end">190</text>
<text x="49.7" y="80.4" text-anchor="end">185</text>
<text x="49.7" y="111.0" text-anchor="end">180</text>
<text x="49.7" y="141.6" text-anchor="end">175</text>
<text x="49.7" y="172.2" text-anchor="end">170</text>
<text x="49.7" y="202.8" text-anchor="end">165</text>
</g>
<text x="251.8" y="14.2" font-size="17.2" text-anchor="middle">PS Network</text>
<text x="251.6" y="266.6" font-size="17.3" text-anchor="middle">X [m]</text>
<text transform="translate(13.6,119.6) rotate(-90)" font-size="17.2" text-anchor="middle">Y [m]</text>
<path d="M131.4 166.4L140.4 175.4M131.4 175.4L140.4 166.4" stroke="#000" stroke-width="3.3" fill="none"/>
<path d="M164.25 139.8L173.25 148.8M164.25 148.8L173.25 139.8" stroke="#000" stroke-width="3.3" fill="none"/>
<path d="M204.9 110.5L213.9 119.5M204.9 119.5L213.9 110.5" stroke="#000" stroke-width="3.3" fill="none"/>
<path d="M252.5 78.8L261.5 87.8M252.5 87.8L261.5 78.8" stroke="#000" stroke-width="3.3" fill="none"/>
<circle cx="300.7" cy="44.9" r="1.15" fill="#f07828"/>
<circle cx="300.7" cy="51.9" r="1.15" fill="#20c8d8"/>
<circle cx="300.9" cy="48.4" r="6.15" fill="none" stroke="#000" stroke-width="3.3"/>
<path d="M297.0 44.5L304.79999999999995 52.3M297.0 52.3L304.79999999999995 44.5" stroke="#000" stroke-width="3.1" fill="none"/>
<g shape-rendering="crispEdges">
<rect x="464.5" y="214.219" width="31.0" height="6.581" fill="#6e19a0"/>
<rect x="464.5" y="207.938" width="31.0" height="6.581" fill="#6420aa"/>
<rect x="464.5" y="201.656" width="31.0" height="6.581" fill="#5a28b4"/>
<rect x="464.5" y="195.375" width="31.0" height="6.581" fill="#5032ba"/>
<rect x="464.5" y="189.094" width="31.0" height="6.581" fill="#463cc2"/>
<rect x="464.5" y="182.812" width="31.0" height="6.581" fill="#3e4ac8"/>
<rect x="464.5" y="176.531" width="31.0" height="6.581" fill="#3756ce"/>
<rect x="464.5" y="170.250" width="31.0" height="6.581" fill="#3062d2"/>
<rect x="464.5" y="163.969" width="31.0" height="6.581" fill="#2873d8"/>
<rect x="464.5" y="157.688" width="31.0" height="6.581" fill="#1e8ae1"/>
<rect x="464.5" y="151.406" width="31.0" height="6.581" fill="#149ee2"/>
<rect x="464.5" y="145.125" width="31.0" height="6.581" fill="#0faad2"/>
<rect x="464.5" y="138.844" width="31.0" height="6.581" fill="#12b3b2"/>
<rect x="464.5" y="132.562" width="31.0" height="6.581" fill="#14bc91"/>
<rect x="464.5" y="126.281" width="31.0" height="6.581" fill="#16c275"/>
<rect x="464.5" y="120.000" width="31.0" height="6.581" fill="#21c85e"/>
<rect x="464.5" y="113.719" width="31.0" height="6.581" fill="#37d050"/>
<rect x="464.5" y="107.438" width="31.0" height="6.581" fill="#5fd73c"/>
<rect x="464.5" y="101.156" width="31.0" height="6.581" fill="#8cde2d"/>
<rect x="464.5" y="94.875" width="31.0" height="6.581" fill="#b9e423"/>
<rect x="464.5" y="88.594" width="31.0" height="6.581" fill="#e1e81e"/>
<rect x="464.5" y="82.312" width="31.0" height="6.581" fill="#faeb19"/>
<rect x="464.5" y="76.031" width="31.0" height="6.581" fill="#ffd719"/>
<rect x="464.5" y="69.750" width="31.0" height="6.581" fill="#ffbe1e"/>
<rect x="464.5" y="63.469" width="31.0" height="6.581" fill="#ffa523"/>
<rect x="464.5" y="57.188" width="31.0" height="6.581" fill="#ff9123"/>
<rect x="464.5" y="50.906" width="31.0" height="6.581" fill="#fc8723"/>
<rect x="464.5" y="44.625" width="31.0" height="6.581" fill="#f57823"/>
<rect x="464.5" y="38.344" width="31.0" height="6.581" fill="#eb5f23"/>
<rect x="464.5" y="32.062" width="31.0" height="6.581" fill="#e1461e"/>
<rect x="464.5" y="25.781" width="31.0" height="6.581" fill="#d72d1e"/>
<rect x="464.5" y="19.500" width="31.0" height="6.581" fill="#be1919"/>
</g>
<rect x="464.5" y="19.5" width="31.0" height="201.0" fill="none" stroke="#4a4a4a" stroke-width="1"/>
<g stroke="#4a4a4a" stroke-width="1">
<line x1="495.5" y1="170.3" x2="493.0" y2="170.3"/>
<line x1="495.5" y1="120.1" x2="493.0" y2="120.1"/>
<line x1="495.5" y1="69.9" x2="493.0" y2="69.9"/>
</g>
<g font-size="14">
<text x="501.5" y="225.6">0</text>
<text x="501.5" y="175.4">0.1</text>
<text x="501.5" y="125.2">0.2</text>
<text x="501.5" y="75.0">0.3</text>
</g>
<text transform="translate(540.9,216.5) rotate(-90)" font-size="14.32">Amplitude dispersion index D<tspan font-size="10.8" dx="1.3" dy="5.8">a</tspan></text>
</svg></body></html>
